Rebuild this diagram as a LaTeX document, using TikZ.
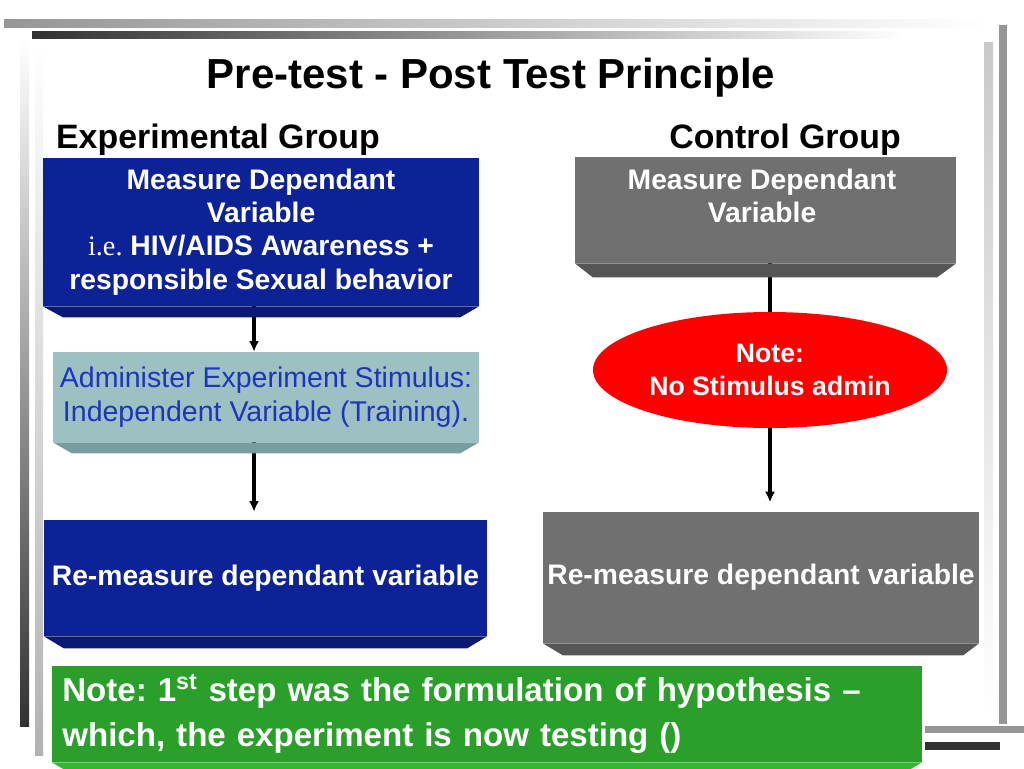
\documentclass[tikz,border=0pt]{standalone}
\usepackage{fontspec}
\setmainfont{Liberation Sans}
\newfontfamily\ieserif{Liberation Serif}
\usepackage{tikz}
\usetikzlibrary{shapes}
\usetikzlibrary{arrows.meta}
\usetikzlibrary{positioning}
\frenchspacing

\definecolor{boxblue}{RGB}{13,34,150}
\definecolor{bluebev}{RGB}{10,26,115}
\definecolor{boxgray}{RGB}{112,112,112}
\definecolor{graybev}{RGB}{86,86,86}
\definecolor{boxteal}{RGB}{157,192,194}
\definecolor{tealbev}{RGB}{120,156,159}
\definecolor{tealtext}{RGB}{28,52,190}
\definecolor{notegreen}{RGB}{42,160,42}
\definecolor{greenbev}{RGB}{54,180,54}
\definecolor{barlight}{RGB}{150,150,150}
\definecolor{barmid}{RGB}{178,178,178}
\definecolor{bardark}{RGB}{50,50,50}

\begin{document}
\begin{tikzpicture}[x=0.75pt,y=0.75pt,yscale=-1,xscale=1,
  box/.style={rectangle, inner sep=0pt, align=center, text=white, font=\bfseries\fontsize{21.2}{25}\selectfont},
  head/.style={inner sep=0pt, anchor=base, font=\bfseries\fontsize{25.4}{30}\selectfont},
  arr/.style={-{Latex[length=8pt,width=7.5pt]}, line width=2.6pt},
  ln/.style={line width=2.6pt}]
\useasboundingbox (0,0) rectangle (1024,768);

%Shape: frame bars
\shade[left color=barlight, right color=white] (4,19) rectangle (985,27);
\shade[left color=bardark, right color=white] (32,31) rectangle (905,38);
\shade[top color=white, bottom color=bardark] (20,40) rectangle (29,726);
\shade[top color=white, bottom color=barmid] (35,42) rectangle (43,755);
\fill[barlight] (999,25) rectangle (1007,724);
\shade[top color=barmid!70, bottom color=white] (984,42) rectangle (993,712);
\fill[barlight] (925,726) rectangle (1024,733);
\fill[bardark] (925,742) rectangle (1000,750);

% Text Node
\node[head, font=\bfseries\fontsize{31.5}{36}\selectfont] (title) at (491,88) {Pre-test - Post Test Principle};
% Text Node
\node[head] (expgrp) at (218,148) {Experimental Group};
% Text Node
\node[head] (ctlgrp) at (785,148) {Control Group};

%Shape: boxes
\node[box, fill=boxblue, minimum width=327pt, minimum height=111pt] (pre1) at (261,232)
  {Measure Dependant\\Variable\\{\ieserif\mdseries i.e.} HIV/AIDS Awareness +\\responsible Sexual behavior};
\node[box, fill=boxteal, text=tealtext, font=\fontsize{21.4}{25}\selectfont, minimum width=319.5pt, minimum height=67.5pt] (stim) at (266,397)
  {Administer Experiment Stimulus:\\ Independent Variable (Training).};
\node[box, fill=boxblue, minimum width=332.25pt, minimum height=87pt] (post1) at (265.5,578)
  {Re-measure dependant variable};
\node[box, fill=boxgray, minimum width=285.75pt, minimum height=79.5pt] (pre2) at (765.5,210) {};
\node[box] (pre2txt) at (762,196) {Measure Dependant\\Variable};
\node[box, fill=boxgray, minimum width=327pt, minimum height=98.25pt] (post2) at (761,577.5)
  {Re-measure dependant variable};
\node[ellipse, fill=red, inner sep=0pt, minimum width=265.5pt, minimum height=87pt, align=center, text=white,
  font=\bfseries\fontsize{20}{24.75}\selectfont] (nostim) at (770,370) {Note:\\No Stimulus admin};

%Straight Lines
\coordinate (lx) at (254,0);
\coordinate (rx) at (770,0);
\draw[arr] (pre1.south -| lx) -- (stim.north -| lx);
\draw[arr, shorten >=6pt] (stim.south -| lx) -- (post1.north -| lx);
\draw[ln] (pre2.south -| rx) -- (nostim.north);
\draw[arr, shorten >=7pt] (nostim.south) -- (post2.north -| rx);

%Shape: bevels
\fill[bluebev] (pre1.south west) -- ++(20,11) -- ([shift={(-19,11)}]pre1.south east) -- (pre1.south east) -- cycle;
\fill[tealbev] (stim.south west) -- ++(19,11) -- ([shift={(-19,11)}]stim.south east) -- (stim.south east) -- cycle;
\fill[bluebev] (post1.south west) -- ++(20,12) -- ([shift={(-20,12)}]post1.south east) -- (post1.south east) -- cycle;
\fill[graybev] (pre2.south west) -- ++(18,14) -- ([shift={(-19,14)}]pre2.south east) -- (pre2.south east) -- cycle;
\fill[graybev] (post2.south west) -- ++(20,12) -- ([shift={(-16,12)}]post2.south east) -- (post2.south east) -- cycle;

%Shape: note
\node[box, fill=notegreen, minimum width=652.5pt, minimum height=72pt, text width=637pt, align=left,
  font=\bfseries\fontsize{24.8}{33.75}\selectfont] (hypo) at (487,714)
  {Note: 1\textsuperscript{st} step was the formulation of hypothesis --\\which, the experiment is now testing ()};
\fill[greenbev] (hypo.south west) -- ++(12,7) -- ([shift={(-12,7)}]hypo.south east) -- (hypo.south east) -- cycle;

\end{tikzpicture}
\end{document}
